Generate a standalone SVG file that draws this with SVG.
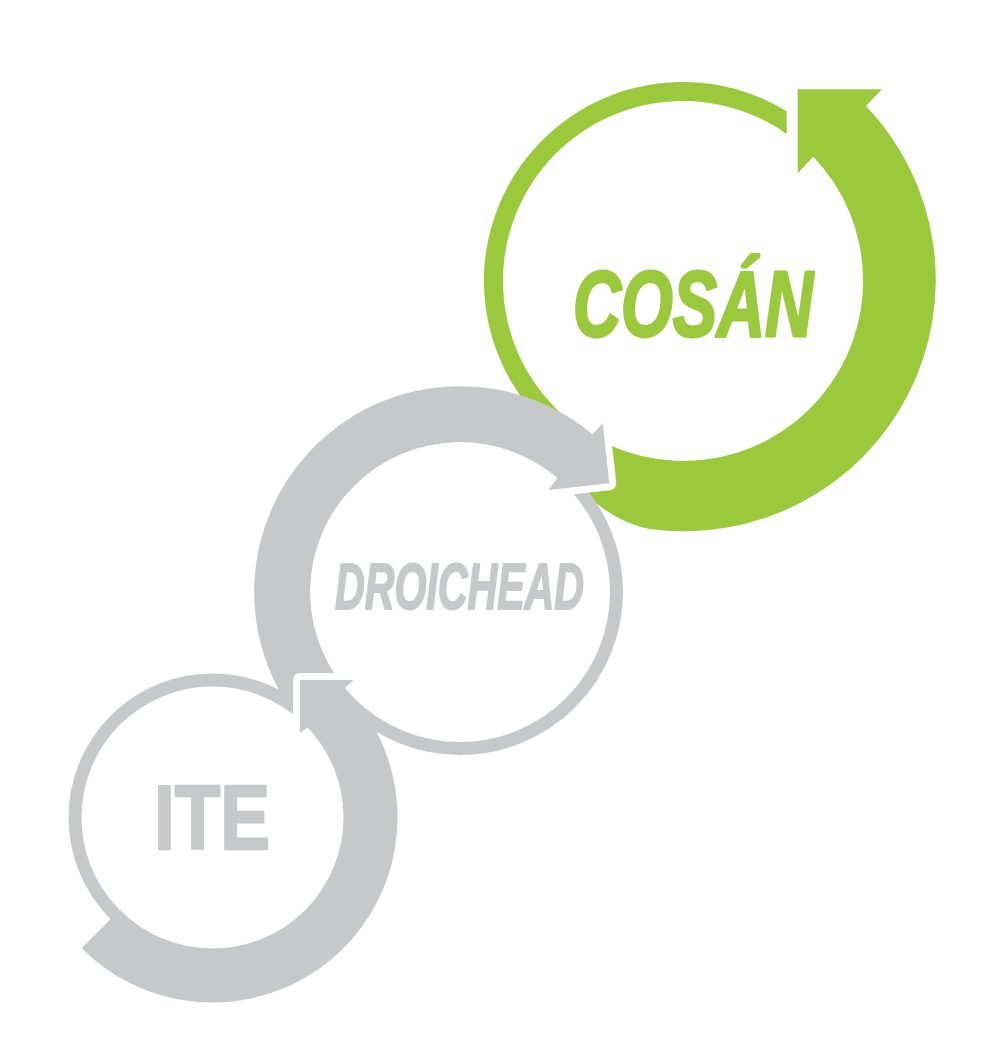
<svg xmlns="http://www.w3.org/2000/svg" width="984" height="1064" viewBox="0 0 984 1064">
<style>
.green{fill:#9aca3c}
.gray{fill:#c7c8ca}
.ring{fill:#ffffff;stroke:#c7c8ca;stroke-width:13}
.head{fill:#c7c8ca;stroke:#ffffff;stroke-width:14;stroke-linejoin:round;paint-order:stroke}
.lbl{font-family:"Liberation Sans",Arial,sans-serif;font-weight:bold;stroke-linejoin:round}
</style>
<rect width="984" height="1064" fill="#ffffff"/>
<g id="cosan">
<path class="green" d="M 786.7 111.2 A 199 199 0 1 0 683 480 L 683 461 A 180 180 0 1 1 786.7 133.9 Z"/>
<path class="green" d="M 866 106 L 882 89.3 L 797.7 89.3 L 797.7 173.3 L 813.3 156.7 A 180 180 0 0 1 579.8 428.4 L 570 480 L 593 500 C 605 512 630 526 650 529 A 251.5 251.5 0 0 0 866 106 Z"/>
<text class="lbl" x="573" y="336" font-size="92" font-style="italic" fill="#9aca3c" stroke="#9aca3c" stroke-width="3" textLength="240" lengthAdjust="spacingAndGlyphs">COSÁN</text>
</g>
<g id="droichead">
<circle class="ring" cx="460" cy="592" r="156.5"/>
<path class="head" d="M 593.3 433.3 L 602.7 423.3 L 609.3 483.3 L 548.3 490 L 556.7 479.3 Z"/>
<path class="gray" d="M 302.2 724.4 A 206 206 0 0 1 597.8 438.9 L 560.4 480.5 A 150 150 0 0 0 345.1 688.4 Z"/>
<text class="lbl" x="335" y="609" font-size="64" font-style="italic" fill="#c7c8ca" stroke="#c7c8ca" stroke-width="2" textLength="249" lengthAdjust="spacingAndGlyphs">DROICHEAD</text>
</g>
<g id="ite">
<circle class="ring" cx="212.5" cy="817.5" r="137.5"/>
<path class="head" d="M 346 687 L 353.3 680 L 300 680 L 300 733 L 308.3 726.7 Z"/>
<path class="gray" d="M 81.7 948.3 A 185 185 0 1 0 338.7 682.2 L 301.8 721.7 A 131 131 0 1 1 119.9 910.1 Z"/>
<text class="lbl" x="154" y="849" font-size="91" fill="#c7c8ca" stroke="#c7c8ca" stroke-width="2.5" textLength="116" lengthAdjust="spacingAndGlyphs">ITE</text>
</g>
</svg>
